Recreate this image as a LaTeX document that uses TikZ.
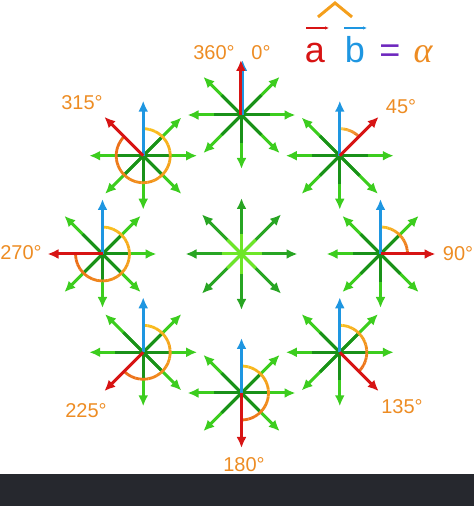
\documentclass[tikz,border=0pt]{standalone}
\usepackage{fontspec}
\setmainfont{Liberation Sans}
\newfontfamily\greekfont{Liberation Serif}
\usetikzlibrary{calc,arrows.meta}
\definecolor{armgreen}{RGB}{60,205,30}
\definecolor{coregreen}{RGB}{25,145,25}
\definecolor{hubgreen}{RGB}{40,165,35}
\definecolor{hublight}{RGB}{110,230,40}
\definecolor{vecred}{RGB}{215,20,20}
\definecolor{vecblue}{RGB}{30,150,225}
\definecolor{arcyellow}{RGB}{250,195,30}
\definecolor{arcorange}{RGB}{235,105,25}
\definecolor{labelorange}{RGB}{237,140,35}
\definecolor{eqpurple}{RGB}{110,40,190}
\definecolor{barcolor}{RGB}{38,40,46}
\tikzset{
  arm/.style={line width=3pt, armgreen, -{Latex[length=11pt,width=10pt]}},
  armcore/.style={line width=3pt, coregreen},
  vec/.style={line width=3pt, -{Latex[length=11pt,width=10pt]}},
  degree/.style={font=\fontsize{20}{20}\selectfont, text=labelorange, inner sep=0pt},
  formula/.style={font=\fontsize{36}{36}\selectfont, inner sep=0pt, anchor=base},
}
\begin{document}
\begin{tikzpicture}[x=1pt,y=1pt]
\useasboundingbox (0,0) rectangle (474,506);
\coordinate (Hub) at (241.5,252);

% stars on the ring
\foreach \ang in {0,45,...,315}{
  \coordinate (S\ang) at ($(Hub)+(90-\ang:139)$);
  \foreach \dir in {45,90,...,315}{
    \ifnum\dir=\ang\else
      \draw[arm] (S\ang) -- ++(90-\dir:54);
    \fi
  }
  \foreach \dir in {45,90,...,315}{
    \ifnum\dir=\ang\else
      \draw[armcore] (S\ang) -- ++(90-\dir:28);
    \fi
  }
  % angle arc
  \ifnum\ang>0
    \foreach \k in {1,...,24}{
      \pgfmathsetmacro{\aone}{90-\ang*(\k-1)/24}
      \pgfmathsetmacro{\atwo}{90-\ang*\k/24}
      \pgfmathtruncatemacro{\mix}{100*(\k-0.5)/24}
      \draw[line width=2.8pt, arcorange!\mix!arcyellow] ($(S\ang)+(\aone:27)$) arc[start angle=\aone, end angle=\atwo, radius=27];
    }
  \fi
  \ifnum\ang=0 \def\bshift{1pt}\def\rshift{-0.6pt}\else \def\bshift{0pt}\def\rshift{0pt}\fi
  \draw[vec, vecblue] ([xshift=\bshift]S\ang) -- ++(90:55);
  \draw[vec, vecred] ([xshift=\rshift]S\ang) -- ++(90-\ang:55);
}

% star in the middle
\coordinate (Core) at (Hub);
\foreach \dir in {0,45,...,315}{
  \draw[arm, hubgreen] (Core) -- ++(\dir:56);
}
\foreach \dir in {0,45,...,315}{
  \draw[line width=3pt, hublight] (Core) -- ++(\dir:20);
}

% degree labels
\node[degree] (L360) at (214,453) {360°};
\node[degree] (L0)   at (261,453) {0°};
\node[degree] (L45)  at (401,399) {45°};
\node[degree] (L90)  at (458,252) {90°};
\node[degree] (L135) at (402,99)  {135°};
\node[degree] (L180) at (244,41)  {180°};
\node[degree] (L225) at (86,95)   {225°};
\node[degree] (L270) at (21,253)  {270°};
\node[degree] (L315) at (82,403)  {315°};

% formula
\node[formula, text=vecred]      (VecA)  at (315,443) {a};
\node[formula, text=vecblue]     (VecB)  at (355,443) {b};
\node[formula, text=eqpurple]    (Eq)    at (390,443) {=};
\node[formula, text=labelorange] (Alpha) at (423,443) {\greekfont\itshape α};
\coordinate (AStart) at (306,478);
\coordinate (AEnd)   at (329,478);
\coordinate (BStart) at (344,478);
\coordinate (BEnd)   at (367,478);
\draw[line width=1.2pt, vecred, -{Latex[length=4pt,width=3.5pt]}] (AStart) -- (AEnd);
\draw[line width=1.2pt, vecblue, -{Latex[length=4pt,width=3.5pt]}] (BStart) -- (BEnd);
\coordinate (HatL) at (318,489);
\coordinate (HatTop) at (335,503);
\coordinate (HatR) at (352,489);
\draw[line width=3pt, arcyellow!60!arcorange] (HatL) -- (HatTop) -- (HatR);

% bottom bar
\fill[barcolor] (0,0) rectangle (474,32);
\end{tikzpicture}
\end{document}
